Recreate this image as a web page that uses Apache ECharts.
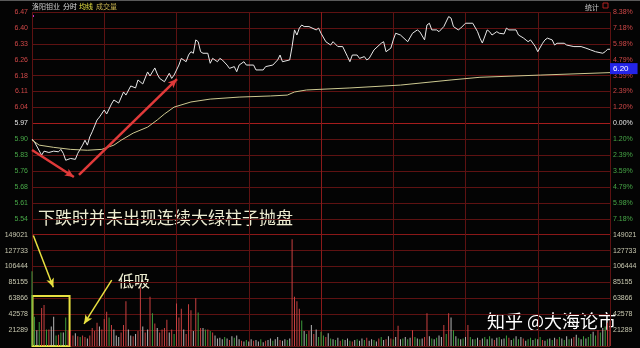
<!DOCTYPE html>
<html><head><meta charset="utf-8">
<script src="https://cdn.jsdelivr.net/npm/echarts@6/dist/echarts.min.js"></script>
<style>html,body{margin:0;padding:0;background:#040404;}#c{width:640px;height:348px;}</style>
</head><body><div id="c"></div>
<script>
// ---------- data ----------
const BASE_PRICE = 5.97;     // previous close (0.00%)
const PRICE_STEP = 0.0715;   // one grid step (1.20%)
const priceTickLabels = ['5.54','5.61','5.68','5.76','5.83','5.90','5.97','6.04','6.11','6.18','6.26','6.33','6.40','6.47']; // k=-6..7
const pctTickLabels = ['7.18%','5.98%','4.79%','3.59%','2.39%','1.20%','0.00%','1.20%','2.39%','3.59%','4.79%','5.98%','7.18%','8.38%'];
const VOL_STEP = 21289;
const volTickLabels = ['','21289','42578','63866','85155','106444','127733','149021'];

// [minute, price]
const pricePoints = [
[0,5.899],[1,5.887],[4,5.827],[5,5.845],[7,5.839],[9,5.845],[11,5.842],[12,5.853],[13,5.835],[14,5.804],
[16,5.812],[18,5.808],[19,5.835],[21,5.872],[22,5.894],[23,5.872],[24,5.909],[25,5.932],[27,5.985],[28,5.998],
[30,6.030],[31,6.012],[33,6.057],[34,6.075],[36,6.061],[38,6.111],[39,6.097],[41,6.138],[43,6.129],[44,6.165],
[46,6.147],[48,6.201],[49,6.183],[51,6.219],[52,6.192],[53,6.172],[55,6.157],[57,6.195],[58,6.172],[59,6.187],
[61,6.232],[62,6.262],[64,6.247],[65,6.277],[66,6.292],[67,6.285],[68,6.345],[69,6.337],[70,6.292],[71,6.285],
[73,6.285],[74,6.240],[75,6.262],[77,6.247],[78,6.262],[79,6.255],[81,6.232],[82,6.217],[84,6.225],[85,6.202],
[86,6.232],[88,6.247],[89,6.232],[92,6.232],[93,6.210],[96,6.210],[97,6.225],[100,6.232],[102,6.255],[103,6.277],
[104,6.247],[107,6.255],[108,6.315],[109,6.390],[110,6.367],[111,6.398],[112,6.412],[113,6.405],[115,6.405],[118,6.390],
[119,6.398],[120,6.375],[122,6.337],[124,6.322],[125,6.337],[127,6.315],[129,6.315],[131,6.270],[132,6.247],[133,6.277],
[135,6.277],[136,6.262],[138,6.270],[139,6.255],[140,6.262],[142,6.300],[145,6.330],[146,6.337],[147,6.292],[149,6.308],
[150,6.345],[151,6.375],[153,6.367],[156,6.337],[158,6.375],[160,6.390],[161,6.382],[163,6.345],[164,6.412],[165,6.420],
[166,6.390],[168,6.390],[169,6.382],[171,6.405],[173,6.450],[174,6.443],[175,6.405],[177,6.390],[178,6.398],[180,6.420],
[183,6.420],[185,6.382],[186,6.353],[187,6.331],[189,6.390],[190,6.382],[191,6.367],[193,6.382],[194,6.375],[196,6.372],
[197,6.398],[198,6.390],[201,6.390],[202,6.367],[204,6.354],[206,6.337],[207,6.345],[209,6.315],[210,6.292],[212,6.330],
[213,6.345],[214,6.353],[216,6.345],[217,6.322],[218,6.330],[221,6.330],[222,6.322],[225,6.315],[228,6.315],[230,6.308],
[232,6.300],[234,6.292],[237,6.285],[238,6.292],[239,6.303],[240,6.303]
];
// [minute, average price]
const avgPoints = [
[0,5.895],[3,5.872],[9,5.862],[16,5.853],[23,5.849],[29,5.853],[34,5.872],[37,5.894],[42,5.926],[48,5.953],
[52,5.985],[55,6.012],[59,6.043],[66,6.066],[74,6.079],[86,6.088],[99,6.093],[106,6.097],[109,6.111],[114,6.120],
[132,6.129],[153,6.142],[174,6.165],[186,6.177],[211,6.187],[240,6.198]
];
// volume per minute (0..240)
const volumes = [
100000,39000,21000,32000,51000,55000,22000,22000,26000,39000,14000,15000,18000,18000,38000,20000,
20000,14000,17000,13000,12000,14000,12000,10000,14000,24000,20000,31000,26000,22000,36000,46000,38000,28000,22000,14000,
12000,18000,28000,60000,22000,14000,13000,16000,20000,78000,26000,18000,22000,66000,44000,30000,24000,18000,22000,24000,35000,18000,22000,16000,
57000,38000,50000,22000,16000,56000,48000,20000,64000,45000,24000,24000,22000,22000,20000,18000,14000,
10000,11000,9000,12000,10000,8000,13000,11000,14000,9000,7000,6000,8000,6000,9000,7000,8000,6000,9000,5000,7000,8000,10000,7000,9000,12000,8000,7000,9000,8000,10000,
143000,66000,60000,50000,34000,20000,16000,20000,28000,16000,22000,12000,
19000,14000,12000,17000,10000,9000,8000,11000,7000,9000,
8000,10000,7000,6000,8000,9000,7000,10000,8000,11000,
7000,9000,8000,6000,10000,12000,8000,9000,13000,10000,
9000,12000,27000,9000,10000,12000,9000,11000,21000,12000,
10000,9000,10000,12000,44000,13000,10000,9000,11000,14000,
12000,28000,16000,44000,38000,21000,13000,10000,9000,10000,
12000,28000,12000,9000,
9000,11000,8000,10000,12000,9000,13000,10000,8000,11000,
12000,9000,10000,14000,11000,8000,10000,13000,9000,12000,
10000,7000,9000,11000,8000,10000,9000,12000,8000,7000,
9000,10000,8000,11000,9000,12000,10000,8000,13000,9000,
10000,12000,15000,11000,9000,13000,10000,12000,16000,19000,
14000,21000,18000,24000,26000,31000,34000
];
// bar direction per minute: r = up, g = down, w = flat
const volumeDirs = [
'ggwgrrgrwwgrgwgr','rrwrgrrwrrrrwrrrgrww','wrrrwwrwrrwrwrgrwrrrrwrg','rrrwrrrwrgrwgrgrw',
'wwwgwrwgwwrwgwwrwwgwrwwgwwrwwgw','rrrrgwgrwrwg',
'ggrwgwgwrg','wwgrwgwwgr','wwgwrgwrwr','gwrwgwgwrg','wgwrrwgwgw','wrgrwgwgwg',
'wrgwgwrwgw','gwrwgwwgrw','gwgwrwggwg','wgrwgwgwrg','wgwgwrwgwg','wggwgrgwgr','r'
].join('');

// annotations: [minute, price] / [minute, volume]
const redArrows = [[[0,5.850],[17.4,5.729]], [[19.5,5.738],[60.2,6.169]]];
const yellowArrows = [[[0.55,148000],[8.85,78600]], [[33.1,88300],[21.6,29500]]];
const yellowBox = [[0.2,67000],[15.6,0]];

// ---------- chart ----------
const toK = p => (p - BASE_PRICE) / PRICE_STEP;
const RED = '#d04848', GREEN = '#48a848', WHITE = '#e6e6e6';
const dirColor = {r:'#c84040', g:'#3c9c3c', w:'#b4b4b4'};
const gridN = '#5e1212', gridB = '#a41c1c', gridSep = '#8a1818';

const priceLineColors = [];
for (let k = -7; k <= 7; k++) priceLineColors.push(k === 0 ? gridB : (k === -7 ? gridSep : gridN));
const volLineColors = [gridN,gridN,gridN,gridN,gridN,gridN,gridN,gridSep];
const xLineColors = [gridN,gridN,gridN,gridN,'#8a1a1a',gridN,gridN,gridN,gridN];

const labelFont = {fontSize: 7, fontFamily: 'Liberation Sans, Arial, sans-serif'};
const kColor = v => v > 0.5 ? RED : (v < -0.5 ? GREEN : WHITE);
const volColor = '#c8c8b0';
const cjk = 'Noto Sans CJK SC';

const chart = echarts.init(document.getElementById('c'), null, {renderer: 'canvas'});
const option = {
  backgroundColor: '#040404',
  animation: false,
  grid: [
    {left: 32, right: 30, top: 12, height: 222.67},
    {left: 32, right: 30, top: 234.67, height: 111.33}
  ],
  xAxis: [0, 1].map(g => ({
    type: 'value', gridIndex: g, min: 0, max: 240, interval: 30,
    axisLine: {show: false}, axisTick: {show: false}, axisLabel: {show: false},
    splitLine: {show: true, lineStyle: {color: xLineColors, width: 1}}
  })),
  yAxis: [
    {type: 'value', gridIndex: 0, position: 'left', min: -7, max: 7, interval: 1,
     axisLine: {show: false}, axisTick: {show: false},
     splitLine: {show: true, lineStyle: {color: priceLineColors, width: 1}},
     axisLabel: Object.assign({margin: 4, color: kColor,
       formatter: v => { const i = Math.round(v) + 6; return i >= 0 ? priceTickLabels[i] : ''; }}, labelFont)},
    {type: 'value', gridIndex: 0, position: 'right', min: -7, max: 7, interval: 1,
     axisLine: {show: false}, axisTick: {show: false}, splitLine: {show: false},
     axisLabel: Object.assign({margin: 3, color: kColor,
       formatter: v => { const i = Math.round(v) + 6; return i >= 0 ? pctTickLabels[i] : ''; }}, labelFont)},
    {type: 'value', gridIndex: 1, position: 'left', min: 0, max: VOL_STEP * 7, interval: VOL_STEP,
     axisLine: {show: false}, axisTick: {show: false},
     splitLine: {show: true, lineStyle: {color: volLineColors, width: 1}},
     axisLabel: Object.assign({margin: 4, color: volColor,
       formatter: v => volTickLabels[Math.round(v / VOL_STEP)] || ''}, labelFont)},
    {type: 'value', gridIndex: 1, position: 'right', min: 0, max: VOL_STEP * 7, interval: VOL_STEP,
     axisLine: {show: false}, axisTick: {show: false}, splitLine: {show: false},
     axisLabel: Object.assign({margin: 3, color: volColor,
       formatter: v => volTickLabels[Math.round(v / VOL_STEP)] || ''}, labelFont)}
  ],
  series: [
    {
      type: 'line', xAxisIndex: 0, yAxisIndex: 0, symbol: 'none', silent: true,
      data: pricePoints.map(p => [p[0], toK(p[1])]),
      lineStyle: {color: '#e8e8e8', width: 1},
      markLine: {
        silent: true, symbol: ['none', 'arrow'], symbolSize: [6, 9], label: {show: false},
        lineStyle: {color: '#e03a3a', width: 2.5, type: 'solid'},
        data: redArrows.map(a => [{coord: [a[0][0], toK(a[0][1])]}, {coord: [a[1][0], toK(a[1][1])]}])
      }
    },
    {
      type: 'line', xAxisIndex: 0, yAxisIndex: 0, symbol: 'none', silent: true,
      data: avgPoints.map(p => [p[0], toK(p[1])]),
      lineStyle: {color: '#cdc991', width: 1},
      endLabel: {show: true, formatter: () => avgPoints[avgPoints.length - 1][1].toFixed(2),
        color: '#ffffff', backgroundColor: '#2424e8', padding: [2, 9, 1, 3], distance: 0,
        offset: [0, -4], fontSize: 8, fontFamily: 'Liberation Sans, Arial, sans-serif'}
    },
    {
      type: 'bar', xAxisIndex: 1, yAxisIndex: 2, barWidth: 1, silent: true,
      data: volumes.map((v, i) => ({value: [i, v], itemStyle: {color: dirColor[volumeDirs[i] || 'w']}})),
      markLine: {
        silent: true, symbol: ['none', 'arrow'], symbolSize: [6, 9], label: {show: false},
        lineStyle: {color: '#e8e040', width: 1.5, type: 'solid'},
        data: yellowArrows.map(a => [{coord: a[0]}, {coord: a[1]}])
      },
      markArea: {
        silent: true, label: {show: false},
        itemStyle: {color: 'rgba(0,0,0,0)', borderColor: '#e8e040', borderWidth: 2},
        data: [[{coord: yellowBox[0]}, {coord: yellowBox[1]}]]
      }
    }
  ],
  graphic: [
    {type: 'line', shape: {x1: 0, y1: 0.5, x2: 640, y2: 0.5}, style: {stroke: '#5a5a5a', lineWidth: 1}},
    {type: 'text', x: 32, y: 6, style: {text: '洛阳钼业', fill: '#c8c8c8', fontSize: 7, fontFamily: cjk, verticalAlign: 'middle'}},
    {type: 'text', x: 63, y: 6, style: {text: '分时', fill: '#e0e0e0', fontSize: 7, fontFamily: cjk, verticalAlign: 'middle'}},
    {type: 'text', x: 79, y: 6, style: {text: '均线', fill: '#e6e040', fontSize: 7, fontFamily: cjk, verticalAlign: 'middle'}},
    {type: 'text', x: 96, y: 6, style: {text: '成交量', fill: '#c8b450', fontSize: 7, fontFamily: cjk, verticalAlign: 'middle'}},
    {type: 'text', x: 585, y: 7, style: {text: '统计', fill: '#c8c8c8', fontSize: 7, fontFamily: cjk, verticalAlign: 'middle'}},
    {type: 'rect', shape: {x: 603, y: 3, width: 5, height: 5}, style: {fill: 'none', stroke: '#b02020', lineWidth: 1}},
    {type: 'rect', shape: {x: 32, y: 15, width: 2, height: 2}, style: {fill: '#c030c0'}},
    {type: 'text', x: 38, y: 218, style: {text: '下跌时并未出现连续大绿柱子抛盘', fill: '#eeeed2', fontSize: 17, fontFamily: cjk, verticalAlign: 'middle'}},
    {type: 'text', x: 118, y: 281, style: {text: '低吸', fill: '#eeeed2', fontSize: 16, fontFamily: cjk, verticalAlign: 'middle'}},
    {type: 'text', x: 487, y: 321, style: {text: '知乎 @大海论市', fill: '#ffffff', fontSize: 18, fontFamily: cjk, verticalAlign: 'middle'}}
  ]
};
chart.setOption(option);
</script>
</body></html>
